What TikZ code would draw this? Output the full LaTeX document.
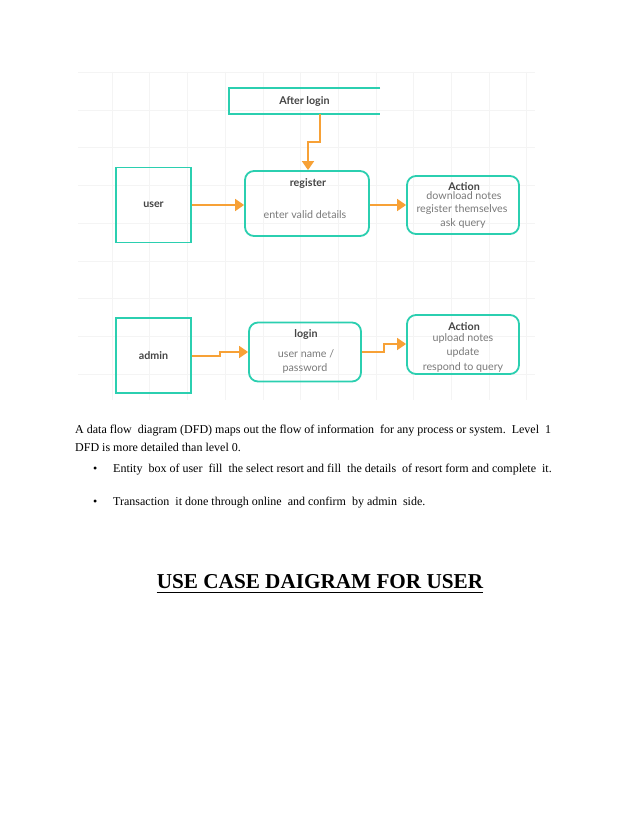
\documentclass[tikz,border=0pt]{standalone}
\usepackage{fontspec}
\setmainfont{Liberation Serif}
\newfontfamily\latofont{Lato}
\usetikzlibrary{arrows.meta}
\definecolor{teal1}{HTML}{2BCFB0}
\definecolor{orng}{HTML}{F7A136}
\definecolor{dtext}{HTML}{454545}
\definecolor{ltext}{HTML}{7A7A7A}
\definecolor{gridc}{HTML}{F4F4F4}
\tikzset{
  entity/.style={draw=teal1, line width=1.8pt, minimum width=75pt, minimum height=75pt, inner sep=0pt},
  procbox/.style={draw=teal1, line width=1.8pt, rounded corners=9pt, inner sep=0pt},
  ttl/.style={font=\latofont\fontsize{10.7}{12}\selectfont\bfseries, text=dtext, inner sep=0pt},
  dtl/.style={font=\latofont\fontsize{10.7}{12}\selectfont, text=ltext, inner sep=0pt},
  flow/.style={draw=orng, line width=1.6pt, -{Triangle[width=12pt,length=9pt]}},
  body/.style={font=\fontsize{12}{14}\selectfont, anchor=west, inner sep=0pt},
}
\begin{document}
\begin{tikzpicture}[x=1pt,y=-1pt]
\useasboundingbox[fill=white] (0,0) rectangle (638,826);
% faint grid
\foreach \gx in {112,149.7,187.4,225.1,262.8,300.5,338.2,375.9,413.6,451.3,489,526.7}
  \draw[gridc, line width=0.6pt] (\gx,72) -- (\gx,400);
\foreach \gy in {72,110,147.7,185.4,223.1,260.8,298.5,336.2,373.9}
  \draw[gridc, line width=0.6pt] (78,\gy) -- (535,\gy);

% After login (open on right)
\node[ttl, minimum width=151pt, minimum height=26pt] (al) at (304.5,101) {After login};
\draw[teal1, line width=1.8pt] (al.north east) -- (al.north west) -- (al.south west) -- (al.south east);

% upper row
\node[entity] (user) at (153.5,205) {};
\node[ttl] (usert) at (153.5,205) {user};
\node[procbox, minimum width=124pt, minimum height=65pt] (reg) at (307,203.5) {};
\node[ttl] (regt) at (308,183.5) {register};
\node[dtl] (regd) at (305,215) {enter valid details};
\node[procbox, minimum width=112pt, minimum height=58pt] (act1) at (463,205) {};
\node[ttl] (act1t) at (464,186.5) {Action};
\node[dtl] (act1a) at (464,196) {download notes};
\node[dtl] (act1b) at (462,209.5) {register themselves};
\node[dtl] (act1c) at (463,223.5) {ask query};

% lower row
\node[entity] (admin) at (153.5,355.5) {};
\node[ttl] (admint) at (153.5,356) {admin};
\node[procbox, minimum width=112pt, minimum height=59pt] (login) at (305,352) {};
\node[ttl] (logint) at (306,334.5) {login};
\node[dtl] (logina) at (306,353.5) {user name /};
\node[dtl] (loginb) at (305,368) {password};
\node[procbox, minimum width=112pt, minimum height=59pt] (act2) at (463,344.5) {};
\node[ttl] (act2t) at (464,326.5) {Action};
\node[dtl] (act2a) at (463,338.5) {upload notes};
\node[dtl] (act2b) at (463,352.5) {update};
\node[dtl] (act2c) at (463,367) {respond to query};

% connectors
\coordinate (b1) at (320,142);
\coordinate (b2) at (308,142);
\draw[flow] (al.south -| b1) -- (b1) -- (b2) -- (reg.north -| b2);
\draw[flow] (user.east) -- (reg.west |- user.east);
\draw[flow] (reg.east |- user.east) -- (act1.west |- user.east);
\coordinate (c1) at (220,356);
\coordinate (c2) at (220,352);
\draw[flow] (admin.east |- c1) -- (c1) -- (c2) -- (login.west |- c2);
\coordinate (d1) at (384,352);
\coordinate (d2) at (384,344);
\draw[flow] (login.east |- d1) -- (d1) -- (d2) -- (act2.west |- d2);

% text
\node[body] (p1) at (75,431) {A data flow\ \ diagram (DFD) maps out the flow of information\ \ for any process or system.\ \ Level\ \ 1};
\node[body] (p2) at (75,447) {DFD is more detailed than level 0.};
\node[body] (bu1) at (93,470) {•};
\node[body] (t1) at (113,470) {Entity\ \ box of user\ \ fill\ \ the select resort and fill\ \ the details\ \ of resort form and complete\ \ it.};
\node[body] (bu2) at (93,503) {•};
\node[body] (t2) at (113,503) {Transaction\ \ it done through online\ \ and confirm\ \ by admin\ \ side.};

\node[font=\fontsize{21.2}{24}\selectfont\bfseries, inner sep=0pt] (hd) at (320,581.5) {USE CASE DAIGRAM FOR USER};
\draw[black, line width=1.2pt] ([yshift=-4pt]hd.south west) -- ([yshift=-4pt]hd.south east);
\end{tikzpicture}
\end{document}
